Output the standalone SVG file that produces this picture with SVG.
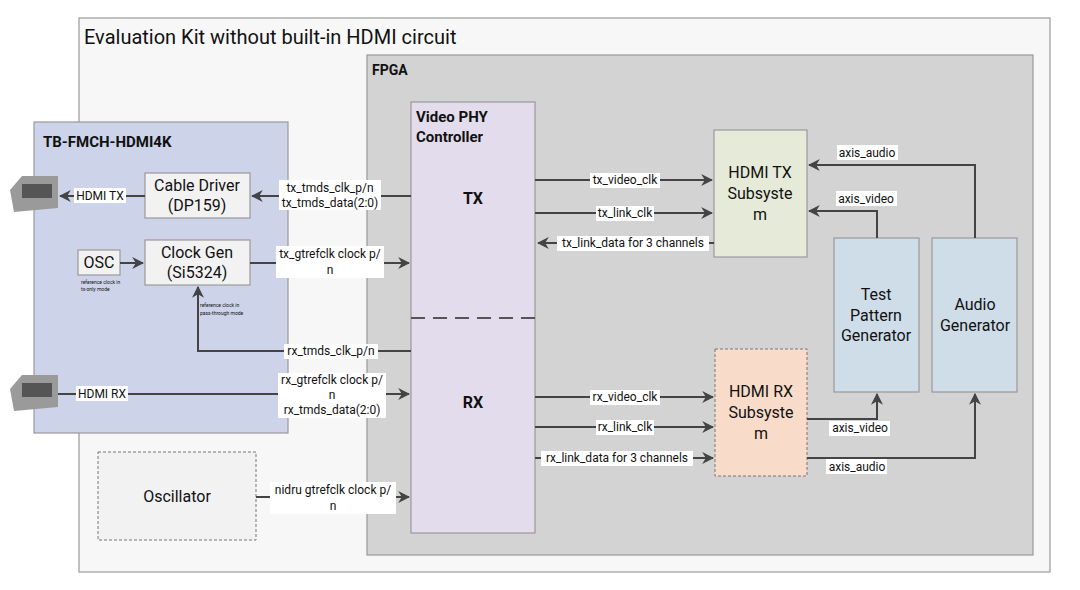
<svg xmlns="http://www.w3.org/2000/svg" width="1080" height="590" viewBox="0 0 1080 590">
<style>
text{font-family:Roboto,"Liberation Sans",sans-serif;fill:#111}
.c{stroke:#444;stroke-width:2;fill:none}
.lb{font-size:12px;text-anchor:middle}
.bg{fill:#fff}
.bx{stroke:#999;stroke-width:1.2}
.big{font-size:16px;text-anchor:middle}
.tiny{font-size:5px}
</style>
<defs>
<marker id="a" viewBox="0 0 10 10" refX="9" refY="5" markerWidth="6" markerHeight="6" orient="auto-start-reverse" markerUnits="userSpaceOnUse"><path d="M0,0L10,5L0,10z" fill="#444"/></marker>
<marker id="A" viewBox="0 0 10 10" refX="9" refY="5" markerWidth="12" markerHeight="12" orient="auto" markerUnits="userSpaceOnUse"><path d="M0,0L10,5L0,10L3,5z" fill="#444"/></marker>
</defs>
<rect width="1080" height="590" fill="#fff"/>
<g id="kit"><rect x="79" y="18" width="971" height="554" fill="#f7f7f7" class="bx"/><text x="84" y="44" font-size="20">Evaluation Kit without built-in HDMI circuit</text></g>
<g id="fpga"><rect x="367" y="55" width="666" height="500" fill="#d3d3d3" class="bx"/><text x="372" y="75" font-size="14" font-weight="bold">FPGA</text></g>
<g id="tb"><rect x="34" y="122" width="254" height="311" fill="#cdd4ea" class="bx"/><text x="43" y="147" font-size="15" font-weight="bold">TB-FMCH-HDMI4K</text></g>
<g id="phy"><rect x="411" y="102" width="124" height="431" fill="#e3dcec" class="bx"/><text x="416" y="122" font-size="15" font-weight="bold">Video PHY</text><text x="416" y="142" font-size="15" font-weight="bold">Controller</text><text x="473" y="204" font-size="16" font-weight="bold" text-anchor="middle">TX</text><text x="473" y="408" font-size="16" font-weight="bold" text-anchor="middle">RX</text><line x1="411" y1="318" x2="535" y2="318" stroke="#555" stroke-width="2" stroke-dasharray="14,8"/></g>
<g id="hdmitx-conn"><path d="M10,190 L22,176 L58,176 L58,208 L14,212 Z" fill="#9a9a9a"/><rect x="22" y="184" width="30" height="14" fill="#555"/></g>
<g id="hdmirx-conn"><path d="M10,389 L22,375 L58,375 L58,407 L14,411 Z" fill="#9a9a9a"/><rect x="22" y="383" width="30" height="14" fill="#555"/></g>
<g id="cable"><rect x="145" y="173" width="105" height="45" fill="#f2f2f2" class="bx"/><text x="197" y="191" class="big">Cable Driver</text><text x="197" y="211" class="big">(DP159)</text></g>
<g id="clockgen"><rect x="145" y="240" width="105" height="45" fill="#f2f2f2" class="bx"/><text x="197" y="258" class="big">Clock Gen</text><text x="197" y="278" class="big">(Si5324)</text></g>
<g id="osc"><rect x="78" y="250" width="42" height="25" fill="#f2f2f2" class="bx"/><text x="99" y="268" class="big">OSC</text><text x="81" y="284" class="tiny">reference clock in</text><text x="81" y="291" class="tiny">tx-only mode</text></g>
<g id="oscillator"><rect x="98" y="452" width="158" height="88" fill="#f2f2f2" stroke="#777" stroke-dasharray="3,2"/><text x="177" y="502" class="big">Oscillator</text></g>
<g id="hdmitx"><rect x="714" y="130" width="93" height="127" fill="#e6ebd9" class="bx"/><text x="760" y="178" class="big">HDMI TX</text><text x="760" y="199" class="big">Subsyste</text><text x="760" y="220" class="big">m</text></g>
<g id="hdmirx"><rect x="715" y="349" width="92" height="127" fill="#f8dcc9" stroke="#777" stroke-dasharray="3,2"/><text x="761" y="397" class="big">HDMI RX</text><text x="761" y="418" class="big">Subsyste</text><text x="761" y="439" class="big">m</text></g>
<g id="tpg"><rect x="834" y="238" width="85" height="154" fill="#cfdde9" class="bx"/><text x="876" y="300" class="big">Test</text><text x="876" y="321" class="big">Pattern</text><text x="876" y="341" class="big">Generator</text></g>
<g id="audio"><rect x="932" y="238" width="85" height="154" fill="#cfdde9" class="bx"/><text x="975" y="310" class="big">Audio</text><text x="975" y="331" class="big">Generator</text></g>
<g id="connectors">
<path class="c" d="M411,196H252" marker-end="url(#A)"/>
<rect class="bg" x="279" y="180" width="102" height="30"/><text class="lb" x="330" y="192">tx_tmds_clk_p/n</text><text class="lb" x="330" y="207">tx_tmds_data(2:0)</text>
<path class="c" d="M145,196H60" marker-end="url(#A)"/>
<rect class="bg" x="74" y="188" width="52" height="15"/><text class="lb" x="100" y="200">HDMI TX</text>
<path class="c" d="M120,263H143" marker-end="url(#A)"/>
<path class="c" d="M250,263H409" marker-end="url(#A)"/>
<rect class="bg" x="276" y="246" width="108" height="32"/><text class="lb" x="330" y="258">tx_gtrefclk clock p/</text><text class="lb" x="330" y="274">n</text>
<path class="c" d="M411,351H198V287" marker-end="url(#A)"/>
<text x="200" y="307" class="tiny">reference clock in</text><text x="200" y="315" class="tiny">pass-through mode</text>
<rect class="bg" x="284" y="344" width="94" height="15"/><text class="lb" x="331" y="355">rx_tmds_clk_p/n</text>
<path class="c" d="M58,394H409" marker-end="url(#A)"/>
<rect class="bg" x="76" y="386" width="52" height="15"/><text class="lb" x="102" y="398">HDMI RX</text>
<rect class="bg" x="278" y="373" width="108" height="45"/><text class="lb" x="332" y="384">rx_gtrefclk clock p/</text><text class="lb" x="332" y="399">n</text><text class="lb" x="332" y="414">rx_tmds_data(2:0)</text>
<path class="c" d="M256,497H409" marker-end="url(#A)"/>
<rect class="bg" x="270" y="482" width="126" height="32"/><text class="lb" x="333" y="494">nidru gtrefclk clock p/</text><text class="lb" x="333" y="510">n</text>
<path class="c" d="M535,180H712" marker-end="url(#A)"/>
<rect class="bg" x="590" y="173" width="70" height="15"/><text class="lb" x="625" y="184">tx_video_clk</text>
<path class="c" d="M535,213H712" marker-end="url(#A)"/>
<rect class="bg" x="596" y="206" width="58" height="15"/><text class="lb" x="625" y="217">tx_link_clk</text>
<path class="c" d="M714,243H538" marker-end="url(#A)"/>
<rect class="bg" x="557" y="236" width="152" height="15"/><text class="lb" x="633" y="247">tx_link_data for 3 channels</text>
<path class="c" d="M975,238V165H809" marker-end="url(#A)"/>
<rect class="bg" x="837" y="145" width="61" height="15"/><text class="lb" x="867" y="157">axis_audio</text>
<path class="c" d="M877,238V211H809" marker-end="url(#A)"/>
<rect class="bg" x="836" y="191" width="61" height="15"/><text class="lb" x="866" y="203">axis_video</text>
<path class="c" d="M535,397H713" marker-end="url(#A)"/>
<rect class="bg" x="590" y="390" width="70" height="15"/><text class="lb" x="625" y="401">rx_video_clk</text>
<path class="c" d="M535,427H713" marker-end="url(#A)"/>
<rect class="bg" x="596" y="420" width="58" height="15"/><text class="lb" x="625" y="431">rx_link_clk</text>
<path class="c" d="M535,458H713" marker-end="url(#A)"/>
<rect class="bg" x="541" y="451" width="152" height="15"/><text class="lb" x="617" y="462">rx_link_data for 3 channels</text>
<path class="c" d="M807,419H877V394" marker-end="url(#A)"/>
<rect class="bg" x="829" y="421" width="61" height="15"/><text class="lb" x="860" y="432">axis_video</text>
<path class="c" d="M807,458H975V394" marker-end="url(#A)"/>
<rect class="bg" x="826" y="459" width="61" height="15"/><text class="lb" x="857" y="471">axis_audio</text>
</g>
</svg>
